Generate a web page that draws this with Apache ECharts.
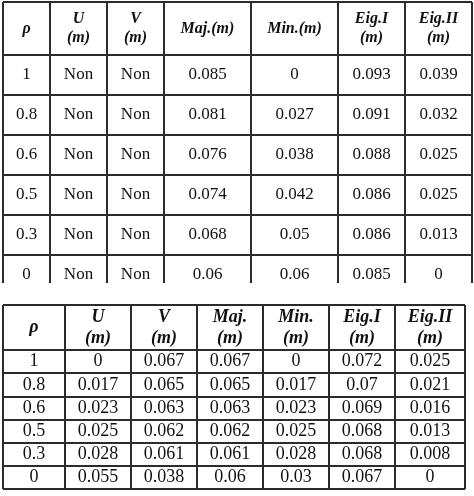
<!DOCTYPE html>
<html>
<head>
<meta charset="utf-8">
<script src="https://cdn.jsdelivr.net/npm/echarts@6/dist/echarts.min.js"></script>
<style>
  html, body { margin: 0; padding: 0; background: #fff; }
  #chart { width: 474px; height: 496px; }
</style>
</head>
<body>
<div id="chart"></div>
<script>
// table 1 (first data row is the header)
var header1 = ["ρ", "U\n(m)", "V\n(m)", "Maj.(m)", "Min.(m)", "Eig.I\n(m)", "Eig.II\n(m)"];
var rho = ["1", "0.8", "0.6", "0.5", "0.3", "0"];
var t1U = ["Non", "Non", "Non", "Non", "Non", "Non"];
var t1V = ["Non", "Non", "Non", "Non", "Non", "Non"];
var t1Maj = ["0.085", "0.081", "0.076", "0.074", "0.068", "0.06"];
var t1Min = ["0", "0.027", "0.038", "0.042", "0.05", "0.06"];
var t1EigI = ["0.093", "0.091", "0.088", "0.086", "0.086", "0.085"];
var t1EigII = ["0.039", "0.032", "0.025", "0.025", "0.013", "0"];

// table 2
var header2 = ["ρ", "U\n(m)", "V\n(m)", "Maj.\n(m)", "Min.\n(m)", "Eig.I\n(m)", "Eig.II\n(m)"];
var t2U = ["0", "0.017", "0.023", "0.025", "0.028", "0.055"];
var t2V = ["0.067", "0.065", "0.063", "0.062", "0.061", "0.038"];
var t2Maj = ["0.067", "0.065", "0.063", "0.062", "0.061", "0.06"];
var t2Min = ["0", "0.017", "0.023", "0.025", "0.028", "0.03"];
var t2EigI = ["0.072", "0.07", "0.069", "0.068", "0.068", "0.067"];
var t2EigII = ["0.025", "0.021", "0.016", "0.013", "0.008", "0"];

// layout of the two tables (pixel edges)
var layouts = [
  { cols: [3, 50, 107, 164, 251, 338, 405, 472],
    rows: [2, 55, 95, 135, 175, 215, 255, 283],
    fs: 17, hfs: 16, cut: true },
  { cols: [3, 65, 131, 197, 263, 329, 395, 465],
    rows: [305, 350, 373, 397, 420, 443, 466, 489],
    fs: 18, hfs: 18, cut: false }
];

function buildCells(t, header, cols) {
  var out = [];
  header.forEach(function (h, c) { out.push([t, c, 0, h]); });
  for (var r = 0; r < rho.length; r++) {
    out.push([t, 0, r + 1, rho[r]]);
    cols.forEach(function (arr, c) { out.push([t, c + 1, r + 1, arr[r]]); });
  }
  return out;
}

var cells = buildCells(0, header1, [t1U, t1V, t1Maj, t1Min, t1EigI, t1EigII])
  .concat(buildCells(1, header2, [t2U, t2V, t2Maj, t2Min, t2EigI, t2EigII]));

var myChart = echarts.init(document.getElementById("chart"), null, { renderer: "canvas" });

function renderItem(params, api) {
  var t = api.value(0), c = api.value(1), r = api.value(2);
  var text = cells[params.dataIndex][3];
  var L = layouts[t];
  var p0 = api.coord([L.cols[c], L.rows[r]]);
  var p1 = api.coord([L.cols[c + 1], L.rows[r + 1]]);
  var ls = { stroke: "#2b2b2b", lineWidth: 2 };
  var ch = [];
  ch.push({ type: "line", shape: { x1: p0[0], y1: p0[1], x2: p1[0], y2: p0[1] }, style: ls });
  ch.push({ type: "line", shape: { x1: p0[0], y1: p0[1], x2: p0[0], y2: p1[1] }, style: ls });
  if (c === L.cols.length - 2)
    ch.push({ type: "line", shape: { x1: p1[0], y1: p0[1], x2: p1[0], y2: p1[1] }, style: ls });
  if (r === L.rows.length - 2 && !L.cut)
    ch.push({ type: "line", shape: { x1: p0[0], y1: p1[1], x2: p1[0], y2: p1[1] }, style: ls });
  var isHead = r === 0;
  var cy = (p0[1] + p1[1]) / 2;
  if (L.cut && r === L.rows.length - 2) cy = p0[1] + 20;
  var fs = isHead ? L.hfs : L.fs;
  ch.push({
    type: "text",
    style: {
      text: text,
      x: (p0[0] + p1[0]) / 2,
      y: cy,
      align: "center",
      verticalAlign: "middle",
      fill: "#111",
      font: (isHead ? "italic bold " : "") + fs + "px 'Liberation Serif', 'DejaVu Serif', serif",
      lineHeight: isHead ? fs + 3 : fs
    }
  });
  return { type: "group", children: ch };
}

var option = {
  animation: false,
  grid: { left: 0, top: 0, width: 474, height: 496 },
  xAxis: { type: "value", min: 0, max: 474, show: false },
  yAxis: { type: "value", min: 0, max: 496, inverse: true, show: false },
  series: [{
    type: "custom",
    renderItem: renderItem,
    encode: { x: 1, y: 2 },
    data: cells.map(function (d) { return [d[0], d[1], d[2]]; })
  }]
};
myChart.setOption(option);
window.addEventListener("resize", myChart.resize);
</script>
</body>
</html>
